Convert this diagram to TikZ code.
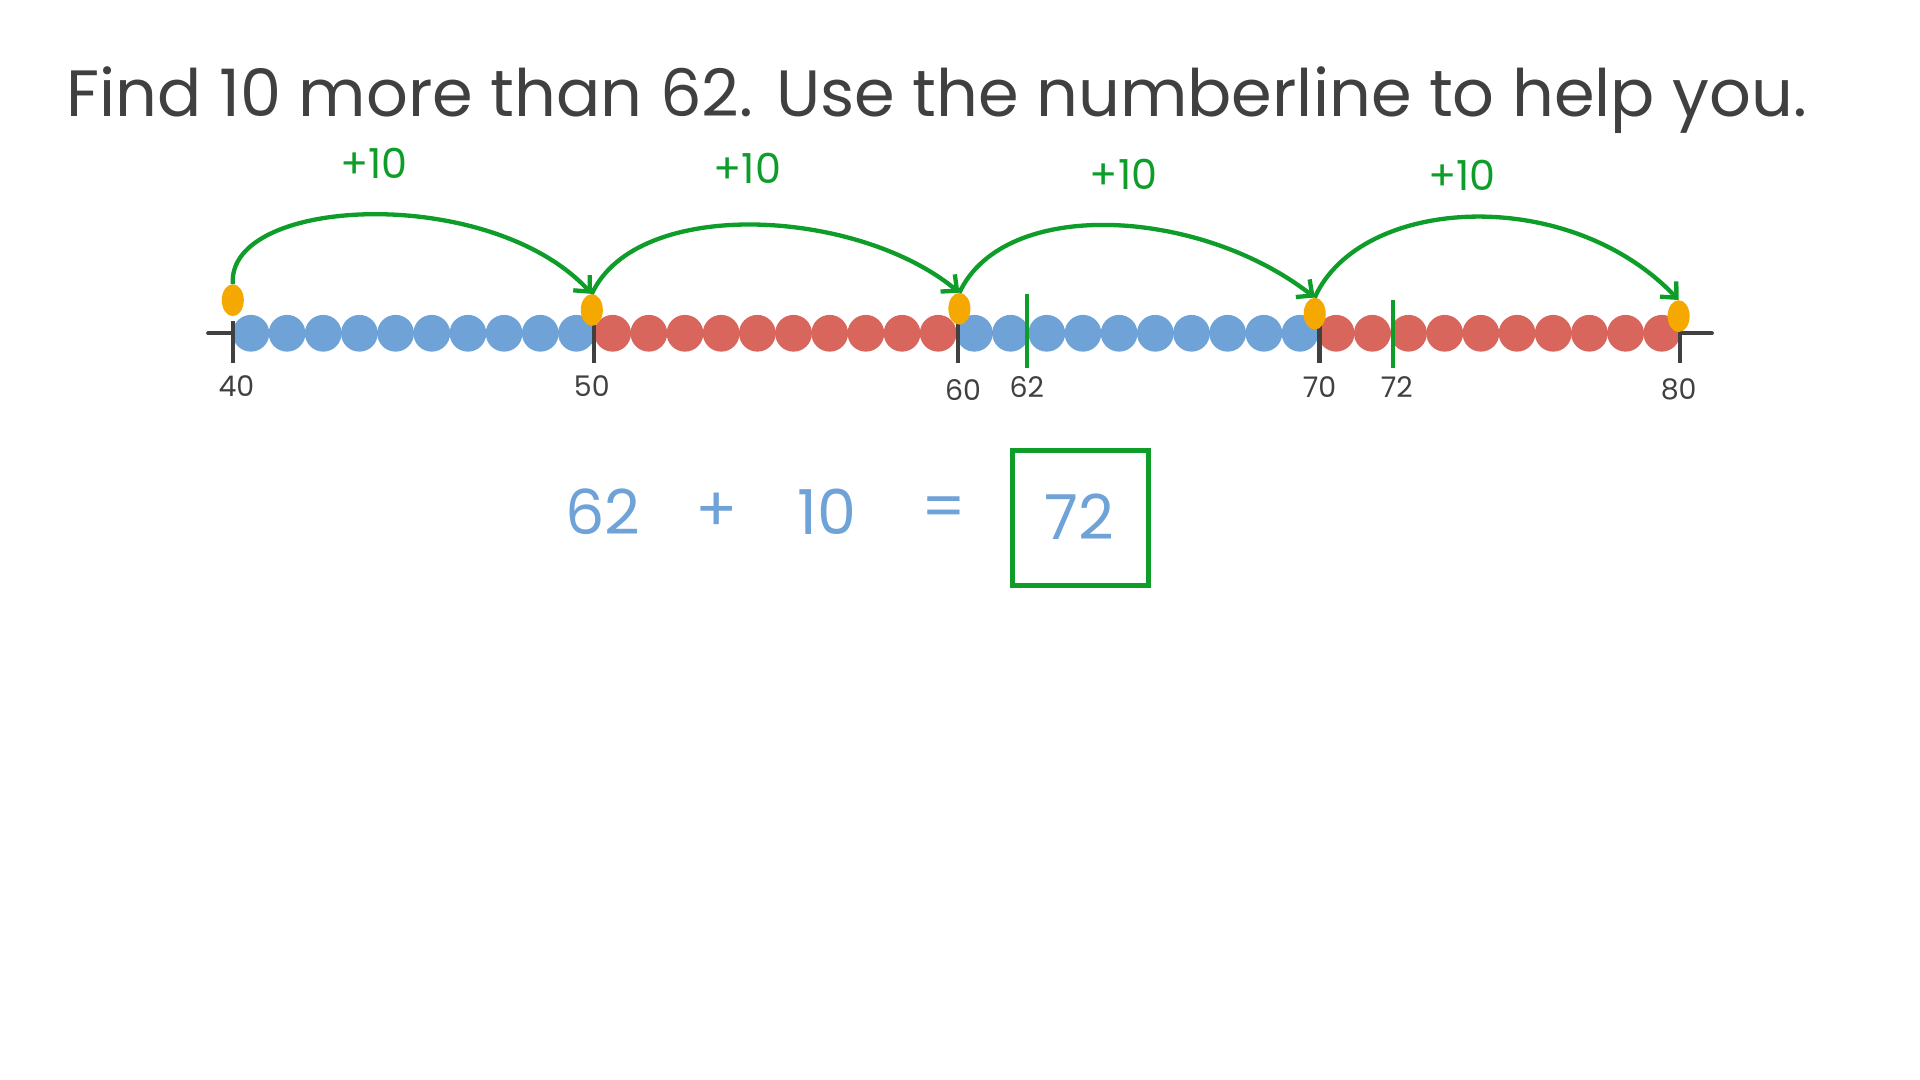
\documentclass[tikz,border=0pt]{standalone}
\usepackage{fontspec}
\setmainfont{Poppins}
\usetikzlibrary{arrows.meta,shapes.geometric}
\definecolor{bl}{HTML}{6FA3D8}
\definecolor{rd}{HTML}{D9665C}
\definecolor{gr}{HTML}{0F9D2A}
\definecolor{or}{HTML}{F5A800}
\definecolor{dk}{HTML}{404040}
\begin{document}
\begin{tikzpicture}[x=0.05cm,y=-0.05cm,
  dot/.style={circle,fill=#1,minimum size=30*0.05cm,inner sep=0},
  orn/.style={ellipse,fill=or,minimum width=18*0.05cm,minimum height=26*0.05cm,inner sep=0},
  jump/.style={gr,line width=5pt,-{Straight Barb[length=14pt,width=26pt]}},
  lab/.style={font=\fontsize{33}{36}\selectfont,text=dk},
  plus/.style={font=\fontsize{48}{50}\selectfont,text=gr},
  eq/.style={font=\fontsize{72}{74}\selectfont,text=bl}]
\useasboundingbox (0,0) rectangle (1567,881);
\node[anchor=base west,font=\fontsize{76}{80}\selectfont,text=dk] (title) at (52,95) {Find 10 more than 62. Use the numberline to help you.};
% line
\coordinate (L) at (170,272); \coordinate (R) at (1397,272);
\draw[dk,line width=5pt,line cap=round] (L) -- (R);
% dots
\foreach \s/\c in {0/bl,1/rd,2/bl,3/rd}{
  \foreach \i in {0,...,9}{
    \node[dot=\c] (d\s\i) at ({190+295.25*\s+14.76+29.525*\i},272) {};
  }}
% ticks
\foreach \k/\x in {40/190,50/485,60/782,70/1077,80/1371}{
  \draw[dk,line width=5pt] (\x,262) -- (\x,296);
  \coordinate (t\k) at (\x,272);
}
% orange
\node[orn] (o1) at (190,245) {};
\node[orn] (o2) at (483,253) {};
\node[orn] (o3) at (783,252) {};
\node[orn] (o4) at (1073,256) {};
\node[orn] (o5) at (1370,258) {};
% arcs
\draw[jump] (o1.north) .. controls (185,160) and (400,150) .. (o2.north);
\draw[jump] (o2.north) .. controls (520,160) and (700,170) .. (o3.north);
\draw[jump] (o3.north) .. controls (820,160) and (980,170) .. (o4.north);
\draw[jump] (o4.north) .. controls (1110,160) and (1280,150) .. (o5.north);
\node[plus] (p1) at (305,133) {+10};
\node[plus] (p2) at (610,137) {+10};
\node[plus] (p3) at (917,142) {+10};
\node[plus] (p4) at (1193,143) {+10};
% green marks
\draw[gr,line width=5pt] (838,240) -- (838,300);
\draw[gr,line width=5pt] (1137,245) -- (1137,300);
% labels
\node[lab] (l40) at (193,315) {40};
\node[lab] (l50) at (483,315) {50};
\node[lab] (l60) at (786,318) {60};
\node[lab] (l62) at (838,316) {62};
\node[lab] (l70) at (1077,316) {70};
\node[lab] (l72) at (1140,316) {72};
\node[lab] (l80) at (1370,318) {80};
% equation
\node[eq] (e1) at (492,418) {62};
\node[eq] (e2) at (585,418) {+};
\node[eq] (e3) at (675,418) {10};
\node[eq] (e4) at (770,418) {=};
\draw[gr,line width=6pt] (826,368) rectangle (937,478);
\node[eq] (ans) at (881,422) {72};
\end{tikzpicture}
\end{document}
